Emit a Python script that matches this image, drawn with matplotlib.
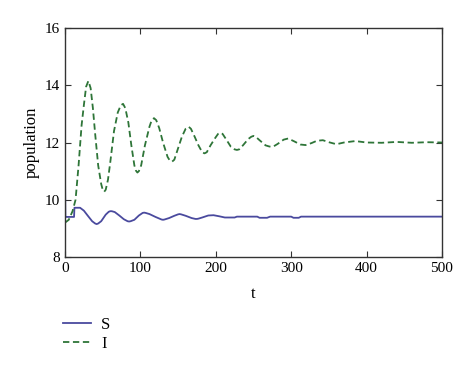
import matplotlib
matplotlib.use("Agg")
from matplotlib import pyplot as plt

# values
t_s = [0, 0.5, 12, 12.5, 20, 25, 30, 36, 40, 42, 44, 48, 54, 58, 60, 62, 66, 72, 78,
       83, 85, 87, 92, 98, 103, 105, 107, 112, 120, 128, 130, 132, 138, 145, 150,
       152, 154, 160, 168, 173, 175, 177, 182, 190, 197, 205, 212, 225, 228, 255,
       258, 268, 272, 300, 303, 310, 313, 500]
s_vals = [10.9, 9.4, 9.4, 9.72, 9.72, 9.62, 9.45, 9.25, 9.17, 9.15, 9.17, 9.25, 9.48,
          9.58, 9.6, 9.6, 9.57, 9.45, 9.32, 9.25, 9.24, 9.25, 9.3, 9.45, 9.54, 9.55,
          9.54, 9.5, 9.4, 9.31, 9.3, 9.31, 9.36, 9.44, 9.49, 9.5, 9.49, 9.44, 9.36,
          9.33, 9.33, 9.34, 9.38, 9.45, 9.46, 9.42, 9.38, 9.38, 9.41, 9.41, 9.37,
          9.37, 9.41, 9.41, 9.37, 9.37, 9.41, 9.41]

t_i = [0, 5, 10, 14, 18, 22, 25, 28, 31, 34, 37, 40, 44, 48, 50, 52, 54, 57, 60, 65,
       70, 74, 77, 80, 84, 88, 92, 94, 96, 98, 101, 106, 112, 115, 118, 121, 125,
       130, 136, 139, 142, 145, 150, 155, 160, 164, 167, 172, 177, 182, 185, 188,
       193, 199, 203, 206, 209, 214, 220, 225, 228, 231, 236, 243, 247, 250, 253,
       258, 266, 271, 274, 277, 282, 290, 296, 304, 312, 319, 327, 334, 342, 350,
       360, 370, 385, 400, 420, 440, 460, 480, 500]
i_vals = [9.2, 9.3, 9.6, 10.0, 11.2, 12.6, 13.3, 13.95, 14.15, 13.9, 13.2, 12.3, 11.2,
          10.55, 10.35, 10.28, 10.35, 10.7, 11.3, 12.4, 13.05, 13.3, 13.35, 13.2,
          12.7, 11.9, 11.2, 11.02, 10.95, 11.0, 11.2, 11.9, 12.55, 12.78, 12.85,
          12.78, 12.5, 12.0, 11.5, 11.37, 11.33, 11.4, 11.8, 12.2, 12.48, 12.55,
          12.48, 12.2, 11.9, 11.66, 11.62, 11.66, 11.9, 12.15, 12.3, 12.34, 12.3,
          12.1, 11.85, 11.76, 11.74, 11.76, 11.9, 12.12, 12.2, 12.23, 12.2, 12.08,
          11.9, 11.86, 11.85, 11.87, 11.95, 12.1, 12.14, 12.04, 11.93, 11.91, 11.98,
          12.06, 12.08, 12.01, 11.94, 12.0, 12.05, 12.0, 11.99, 12.02, 11.99, 12.01,
          12.0]

plt.rcParams['font.family'] = ['Liberation Serif', 'DejaVu Serif']

fig = plt.figure(figsize=(4.74, 3.70), dpi=100)
ax = fig.add_axes([65 / 474, 1 - 257 / 370, 377 / 474, 229 / 370])

s_line, = ax.plot(t_s, s_vals, color='#4a4a9e', lw=1.3, label='S')
i_line, = ax.plot(t_i, i_vals, color='#2e7538', lw=1.3, ls=(0, (3.5, 2)), label='I')

ax.set_xlim(0, 500)
ax.set_ylim(8, 16)
ax.set_xticks([0, 100, 200, 300, 400, 500])
ax.set_yticks([8, 10, 12, 14, 16])
ax.tick_params(direction='in', top=True, right=True, labelsize=11, length=4, color='#333333')
for sp in ax.spines.values():
    sp.set_color('#333333')
    sp.set_linewidth(1.0)

ax.set_xlabel('t', fontsize=12, labelpad=8)
ax.set_ylabel('population', fontsize=12)

fig.legend(handles=[s_line, i_line], loc='upper left', bbox_to_anchor=(48 / 474, 1 - 302 / 370),
           frameon=False, fontsize=12, handlelength=1.7, handletextpad=0.6, labelspacing=0.15)

fig.savefig('out.png', dpi=100)
